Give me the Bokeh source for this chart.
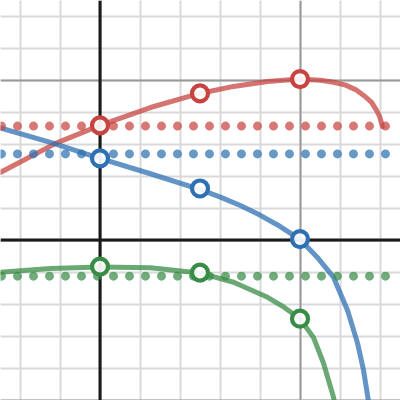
from bokeh.plotting import figure
from bokeh.models import Range1d, Grid, SingleIntervalTicker, Span
from bokeh.embed import file_html
from bokeh.resources import INLINE

# ---- data (graph units) ----
red_x = [-2.49, -1.11, 0.0, 1.26, 2.49, 3.34, 4.19, 4.99, 5.51, 5.84, 6.14, 6.39, 6.61, 6.79, 6.91, 6.99, 7.03, 7.06]
red_y = [2.11, 3.02, 3.58, 4.14, 4.58, 4.80, 4.95, 5.03, 4.99, 4.93, 4.84, 4.70, 4.50, 4.30, 4.06, 3.86, 3.69, 3.55]

blue_x = [-2.49, -1.24, 0.0, 1.26, 2.49, 3.01, 3.51, 4.01, 4.44, 4.99, 5.46, 5.84, 6.19, 6.44, 6.59, 6.71, 6.74]
blue_y = [3.50, 3.05, 2.55, 2.07, 1.58, 1.34, 1.08, 0.77, 0.47, 0.03, -0.58, -1.17, -2.20, -3.23, -4.08, -5.02, -5.33]

green_x = [-2.49, -1.24, 0.0, 1.26, 2.49, 3.34, 4.19, 4.60, 5.0, 5.34, 5.59, 5.84, 5.90]
green_y = [-1.01, -0.89, -0.84, -0.87, -1.03, -1.32, -1.79, -2.10, -2.46, -3.05, -3.86, -4.92, -5.33]

pt_x = [0.0, 2.5, 5.0]
red_pts = [3.58, 4.58, 5.03]
blue_pts = [2.55, 1.61, 0.03]
green_pts = [-0.83, -1.02, -2.46]

red_mean = 3.56
blue_mean = 2.69
green_mean = -1.13
mean_extent = [-2.4625, 7.2125]

RED = "#c74440"
BLUE = "#2d70b3"
GREEN = "#388c46"

p = figure(width=400, height=400, output_backend="svg", toolbar_location=None,
           x_range=Range1d(-2.4875, 7.5125), y_range=Range1d(-5.015625, 7.484375),
           x_axis_location=None, y_axis_location=None, min_border=0)
p.outline_line_color = None
p.background_fill_color = "white"
p.border_fill_color = "white"

# grids
for dim in (0, 1):
    p.add_layout(Grid(dimension=dim, ticker=SingleIntervalTicker(interval=1),
                      grid_line_color="#d9d9d9", grid_line_width=2), "center")
for dim in (0, 1):
    p.add_layout(Grid(dimension=dim, ticker=SingleIntervalTicker(interval=5),
                      grid_line_color="#9a9a9a", grid_line_width=2), "center")
p.add_layout(Span(location=0, dimension="height", line_color="#1a1a1a", line_width=3, level="underlay"))
p.add_layout(Span(location=0, dimension="width", line_color="#1a1a1a", line_width=3, level="underlay"))

# curves
for xs, ys, c in ((red_x, red_y, RED), (blue_x, blue_y, BLUE), (green_x, green_y, GREEN)):
    p.line(xs, ys, line_color=c, line_alpha=0.75, line_width=5, line_join="round", line_cap="round")

# dotted mean lines
for m, c in ((red_mean, RED), (blue_mean, BLUE), (green_mean, GREEN)):
    p.line(mean_extent, [m, m], line_color=c, line_alpha=0.72, line_width=9,
           line_dash="0 16", line_cap="round")

# hollow points
for ys, c in ((red_pts, RED), (blue_pts, BLUE), (green_pts, GREEN)):
    p.scatter(pt_x, ys, size=16, line_color=c, line_width=4.2,
              fill_color="white", fill_alpha=0.9)

open("out.html", "w").write(file_html(p, INLINE))
